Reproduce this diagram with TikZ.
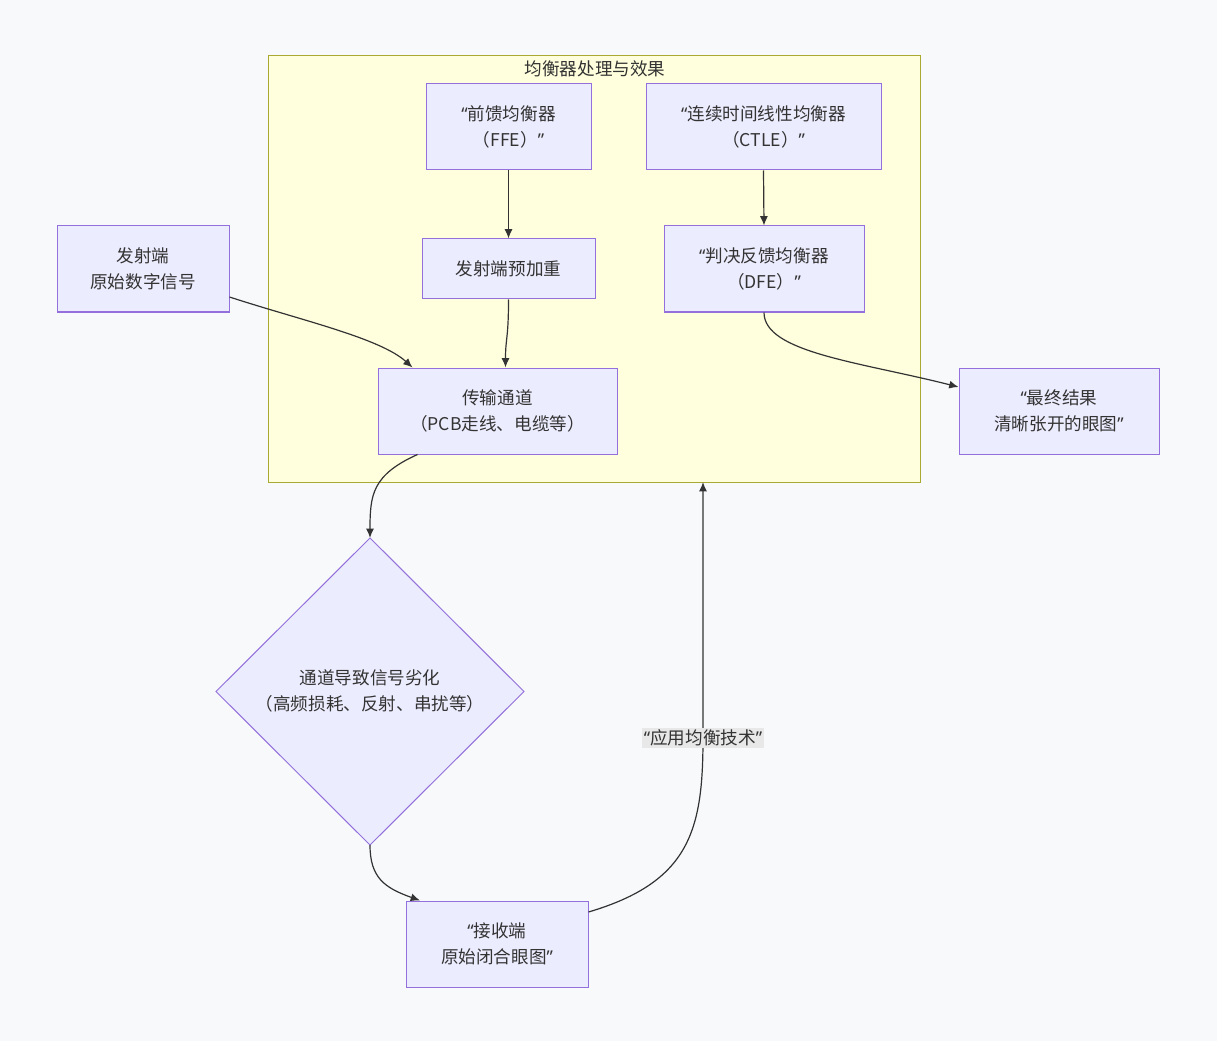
\documentclass[tikz,border=0pt]{standalone}
\usepackage{fontspec}
\newfontfamily\cjk{Noto Sans CJK SC}
\newfontfamily\latinq{Noto Sans}
\newcommand\oqt{{\latinq “}}
\newcommand\cqt{{\latinq ”}}
\usetikzlibrary{arrows.meta,calc,shapes.geometric}
\definecolor{bgc}{HTML}{F8F9FB}
\definecolor{nodefill}{HTML}{ECECFF}
\definecolor{nodeline}{HTML}{9370DB}
\definecolor{clfill}{HTML}{FFFFDE}
\definecolor{clline}{HTML}{AAAA33}
\definecolor{txt}{HTML}{333333}
\definecolor{lblbg}{HTML}{E8E8E8}
\tikzset{
  box/.style={draw=nodeline, fill=nodefill, line width=0.75pt, align=center, text=txt,
    font=\cjk\fontsize{13.2}{19.5}\selectfont, inner sep=0pt},
  conn/.style={draw=txt, line width=0.9pt, -{Latex[length=7pt,width=6pt]}},
  lbl/.style={fill=lblbg, text=txt, font=\cjk\fontsize{13.2}{14}\selectfont, inner sep=1.5pt}
}
\begin{document}
\begin{tikzpicture}[x=0.75pt,y=-0.75pt]
\useasboundingbox (0,0) rectangle (1217,1041);
\fill[bgc] (0,0) rectangle (1217,1041);
% cluster
\draw[fill=clfill, draw=clline, line width=0.75pt] (268,56) rectangle (920,482);
\node[text=txt, font=\cjk\fontsize{13.2}{14}\selectfont] (cltitle) at (595,69) {均衡器处理与效果};
\coordinate (clbot) at (703,482);
% nodes
\node[box, minimum width=165*0.75pt, minimum height=86*0.75pt] (ffe) at (508.5,127) {\oqt 前馈均衡器\\（FFE）\cqt};
\node[box, minimum width=235*0.75pt, minimum height=86*0.75pt] (ctle) at (763.5,127) {\oqt 连续时间线性均衡器\\（CTLE）\cqt};
\node[box, minimum width=173*0.75pt, minimum height=60*0.75pt] (pre) at (508.5,269) {发射端预加重};
\node[box, minimum width=200*0.75pt, minimum height=86*0.75pt] (dfe) at (764,269) {\oqt 判决反馈均衡器\\（DFE）\cqt};
\node[box, minimum width=239*0.75pt, minimum height=86*0.75pt] (ch) at (497.5,411) {传输通道\\（PCB走线、电缆等）};
\node[box, minimum width=172*0.75pt, minimum height=86*0.75pt] (src) at (143,269) {发射端\\原始数字信号};
\node[box, minimum width=200*0.75pt, minimum height=86*0.75pt] (fin) at (1059,411) {\oqt 最终结果\\清晰张开的眼图\cqt};
\node[box, minimum width=182*0.75pt, minimum height=86*0.75pt] (rx) at (497,944) {\oqt 接收端\\原始闭合眼图\cqt};
% diamond
\path[draw=nodeline, fill=nodefill, line width=0.75pt] (370,538) -- (524,691.5) -- (370,845) -- (216,691.5) -- cycle;
\node[text=txt, align=center, font=\cjk\fontsize{13.2}{19.5}\selectfont] (dia) at (370,691) {通道导致信号劣化\\（高频损耗、反射、串扰等）};
\coordinate (diatop) at (370,538);
\coordinate (diabot) at (370,845);
% edges
\draw[conn] (ffe.south) -- (pre.north);
\draw[conn] (ctle.south) -- (dfe.north);
\draw[conn] (pre.south) .. controls ($(pre.south)+(0,40)$) and ($(ch.north)+(8,-30)$) .. ($(ch.north)+(8,0)$);
\draw[conn] ($(src.east)+(0,28)$) .. controls (300,320) and (380,338) .. ($(ch.north)+(-85,0)$);
\draw[conn] (dfe.south) .. controls ($(dfe.south)+(0,40)$) and (860,362) .. ($(fin.west)+(0,-24)$);
\draw[conn] ($(ch.south)+(-80,0)$) .. controls (372,475) and (370,495) .. (diatop);
\draw[conn] (diabot) .. controls (370,878) and (385,888) .. ($(rx.north)+(-77,0)$);
\draw[conn] ($(rx.east)+(0,-32)$) .. controls (690,882) and (703,830) .. (703,738) -- (clbot);
\node[lbl] (applbl) at (703,738) {\oqt 应用均衡技术\cqt};
\end{tikzpicture}
\end{document}
